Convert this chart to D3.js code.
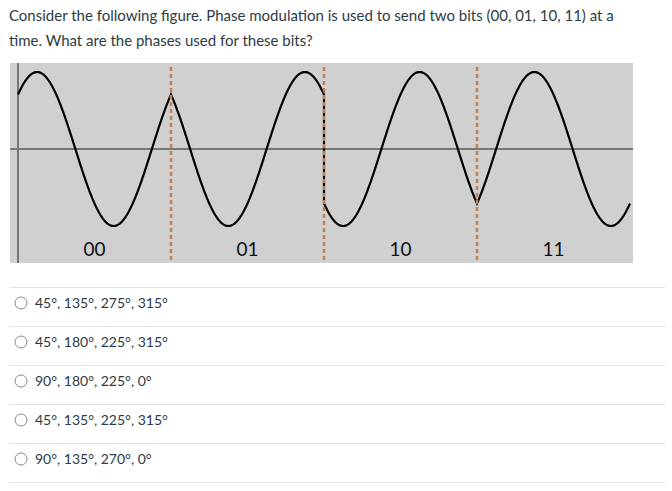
<!DOCTYPE html><html><head><meta charset="utf-8"><script src="https://cdn.jsdelivr.net/npm/d3@7"></script>
<style>body{margin:0;background:#fff}text{font-family:Lato,"Open Sans",sans-serif}</style></head><body>
<svg id="c" width="672" height="491"></svg>
<script>
const questionLines=["Consider the following figure. Phase modulation is used to send two bits (00, 01, 10, 11) at a","time. What are the phases used for these bits?"];
const bits=["00","01","10","11"];
const phases=[45,135,225,315];
const options=["45°, 135°, 275°, 315°","45°, 180°, 225°, 315°","90°, 180°, 225°, 0°","45°, 135°, 225°, 315°","90°, 135°, 270°, 0°"];
const svg=d3.select("#c");
svg.selectAll(".q").data(questionLines).join("text").attr("x",9).attr("y",(d,i)=>21+i*25)
 .attr("font-size",15).attr("fill","#2d3b45").text(d=>d);
const x=d3.scaleLinear().domain([0,4]).range([18,630]);
const y=d3.scaleLinear().domain([-1,1]).range([226,72]);
svg.append("rect").attr("x",10).attr("y",63).attr("width",623).attr("height",200).attr("fill","#d0d0d0");
svg.append("line").attr("x1",10).attr("x2",633).attr("y1",y(0)).attr("y2",y(0)).attr("stroke","#777").attr("stroke-width",2);
svg.append("line").attr("x1",18).attr("x2",18).attr("y1",63).attr("y2",263).attr("stroke","#777").attr("stroke-width",2);
const pts=[];
phases.forEach((p,i)=>{for(let k=0;k<=200;k++){const t=k/200;pts.push([i+t,Math.sin(2*Math.PI*t+p*Math.PI/180)]);}});
svg.append("path").attr("d",d3.line().x(d=>x(d[0])).y(d=>y(d[1]))(pts)).attr("fill","none").attr("stroke","#000").attr("stroke-width",2.2);
svg.selectAll(".sep").data([1,2,3]).join("line").attr("x1",d=>x(d)).attr("x2",d=>x(d)).attr("y1",67).attr("y2",262)
 .attr("stroke","#c47f55").attr("stroke-width",2.5).attr("stroke-dasharray","4,3");
svg.selectAll(".bl").data(bits).join("text").attr("x",(d,i)=>x(i+0.5)).attr("y",256).attr("text-anchor","middle")
 .attr("font-size",19).attr("font-family","DejaVu Sans, sans-serif").attr("fill","#111").text(d=>d);
const oy=d3.scaleLinear().domain([0,1]).range([303,342]);
svg.selectAll(".sl").data(d3.range(6)).join("line").attr("x1",9).attr("x2",665).attr("y1",d=>oy(d)-15.5).attr("y2",d=>oy(d)-15.5).attr("stroke","#e3e3e3");
const g=svg.selectAll(".op").data(options).join("g").attr("transform",(d,i)=>`translate(0,${oy(i)})`);
g.append("circle").attr("cx",21).attr("cy",0).attr("r",6).attr("fill","#fff").attr("stroke","#888");
g.append("text").attr("x",35).attr("y",5).attr("font-size",14).attr("fill","#2d3b45").text(d=>d);
</script></body></html>
